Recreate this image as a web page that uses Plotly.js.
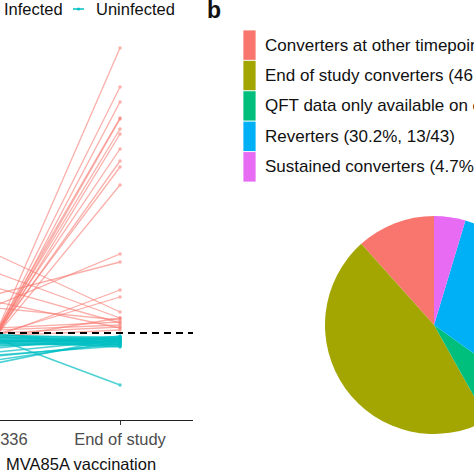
<!DOCTYPE html>
<html>
<head>
<meta charset="utf-8">
<script src="https://cdn.plot.ly/plotly-3.0.1.min.js"></script>
<style>
  html, body { margin: 0; padding: 0; overflow: hidden; background: #fff; }
  #chart { position: absolute; left: -40px; top: 0; width: 640px; height: 474px; }
</style>
</head>
<body>
<div id="chart"></div>
<script>
// panel a: QFT values per participant, Day 336 -> End of study
const timepoints = ['Day 336', 'End of study'];
const threshold = 0.35;

const infectedDay336 = [0.39, 0.35, 0.31, 0.41, 0.33, 0.37, 0.29, 0.39, 0.33, 0.37, 0.31,
    0.91, 1.13, 0.29, 0.33, 1.91, 1.55, 1.25, 0.97, 0.85, 0.41, 0.35, 0.45, 0.29, 0.25];
const infectedEnd = [6.05, 5.27, 4.97, 4.65, 4.63, 4.43, 4.33, 4.03, 3.79, 3.67, 3.31,
    1.93, 1.77, 1.21, 1.07, 0.77, 0.65, 0.55, 0.45, 0.61, 0.51, 0.47, 0.57, 0.41, 0.65];

const uninfectedDay336 = [0.25, 0.21, 0.17, 0.29, 0.13, 0.23, 0.19, 0.27, 0.15, 0.11, 0.31, 0.21, 0.25,
    0.17, 0.09, -0.03, -0.11, -0.19, -0.25, -0.09, 0.23, 0.05, 0.33, 0.19, 0.27, 0.15];
const uninfectedEnd = [0.25, 0.23, 0.19, 0.27, 0.15, 0.11, 0.21, 0.17, 0.09, 0.13, 0.23, 0.07, 0.15,
    0.27, 0.19, 0.21, 0.13, 0.17, 0.25, 0.09, -0.69, 0.29, 0.11, 0.17, 0.21, 0.23];

// panel b: QFT outcome groups
const groupNames = ['Converters at other timepoints', 'End of study converters',
    'QFT data only available on enrolment', 'Reverters', 'Sustained converters'];
const groupCounts = [5, 20, 3, 13, 2];
const groupColors = ['#F8766D', '#A3A500', '#00BF7D', '#00B0F6', '#E76BF3'];

const RED = '#F8766D';
const CYAN = '#00BFC4';
const FONT = 'Liberation Sans, Arial, Helvetica, sans-serif';

// figure is 640 wide and shifted 40px left, so page x -> paper x
const W = 640, H = 474, SHIFT = 40;
const px = x => (x + SHIFT) / W;
const py = y => 1 - y / H;

function pairTraces(starts, ends, color, opacity, width) {
    return starts.map((s, i) => ({
        type: 'scatter',
        mode: 'lines+markers',
        x: timepoints,
        y: [s, ends[i]],
        line: { color: color, width: width },
        marker: { color: color, size: 3.5 },
        opacity: opacity,
        hoverinfo: 'skip',
        showlegend: false,
        cliponaxis: true,
    }));
}

const total = groupCounts.reduce((a, b) => a + b, 0);
const groupLabels = groupNames.map((n, i) =>
    `${n} (${(100 * groupCounts[i] / total).toFixed(1)}%, ${groupCounts[i]}/${total})`);

// plotly puts the first ccw slice clockwise of `rotation`, so turn it back by its own size
const pie = {
    type: 'pie',
    labels: groupLabels,
    values: groupCounts,
    marker: { colors: groupColors, line: { width: 0 } },
    sort: false,
    direction: 'counterclockwise',
    rotation: -360 * groupCounts[0] / total,
    textinfo: 'none',
    hoverinfo: 'skip',
    showlegend: false,
    domain: { x: [px(325), px(543)], y: [py(434), py(216)] },
};

const traces = [
    ...pairTraces(infectedDay336, infectedEnd, RED, 0.58, 1.3),
    ...pairTraces(uninfectedDay336, uninfectedEnd, CYAN, 0.7, 1.5),
    pie,
];

// legend keys for the pie drawn as tall ggplot-style boxes
const keyTop = 30, keyH = 30.4;
const shapes = [
    {
        type: 'line', xref: 'paper', yref: 'y',
        x0: 0, x1: px(193), y0: threshold, y1: threshold,
        line: { color: '#000', width: 1.8, dash: '7px,5px' }, layer: 'above',
    },
    {
        type: 'line', xref: 'paper', yref: 'paper',
        x0: px(73), x1: px(84), y0: py(9), y1: py(9),
        line: { color: CYAN, width: 1.5 },
    },
    {
        type: 'circle', xref: 'paper', yref: 'paper',
        x0: px(77), x1: px(80), y0: py(7.5), y1: py(10.5),
        fillcolor: CYAN, line: { width: 0 },
    },
    ...groupColors.map((c, i) => ({
        type: 'rect', xref: 'paper', yref: 'paper',
        x0: px(243), x1: px(256),
        y0: py(keyTop + keyH * i), y1: py(keyTop + keyH * (i + 1)),
        fillcolor: c, line: { color: '#fff', width: 0.8 },
    })),
];

const annotations = [
    { text: 'Infected', x: px(2), y: py(9), size: 16.5 },
    { text: 'Uninfected', x: px(94), y: py(9), size: 16.5 },
    { text: 'MVA85A vaccination', x: px(4), y: py(464), size: 16.5 },
    { text: '<b>b</b>', x: px(205), y: py(10), size: 23 },
    ...groupLabels.map((t, i) => ({ text: t, x: px(263), y: py(keyTop + keyH * (i + 0.5)), size: 17 })),
].map(a => ({
    text: a.text, x: a.x, y: a.y, xref: 'paper', yref: 'paper',
    xanchor: 'left', yanchor: 'middle', showarrow: false,
    font: { family: FONT, size: a.size, color: '#111' },
}));

// day 336 sits at page x -3, end of study at page x 120
const unit = 123;
const layout = {
    width: W,
    height: H,
    margin: { l: 0, r: 0, t: 0, b: 0 },
    paper_bgcolor: '#fff',
    plot_bgcolor: '#fff',
    font: { family: FONT },
    showlegend: false,
    xaxis: {
        type: 'category',
        domain: [0, px(193)],
        range: [-(SHIFT - 3) / unit, (193 + 3) / unit],
        showline: true, linecolor: '#222', linewidth: 1.2,
        ticks: 'outside', ticklen: 4, tickcolor: '#333', tickwidth: 1,
        tickfont: { size: 16.5, color: '#4d4d4d', family: FONT },
        showgrid: false, zeroline: false, automargin: false, fixedrange: true,
    },
    yaxis: {
        domain: [py(420), py(30)],
        range: [threshold + (333 - 420) / 50, threshold + (333 - 30) / 50],
        showline: false, showticklabels: false, ticks: '',
        showgrid: false, zeroline: false, automargin: false, fixedrange: true,
    },
    shapes: shapes,
    annotations: annotations,
};

Plotly.newPlot('chart', traces, layout, { staticPlot: true, displayModeBar: false });
</script>
</body>
</html>
